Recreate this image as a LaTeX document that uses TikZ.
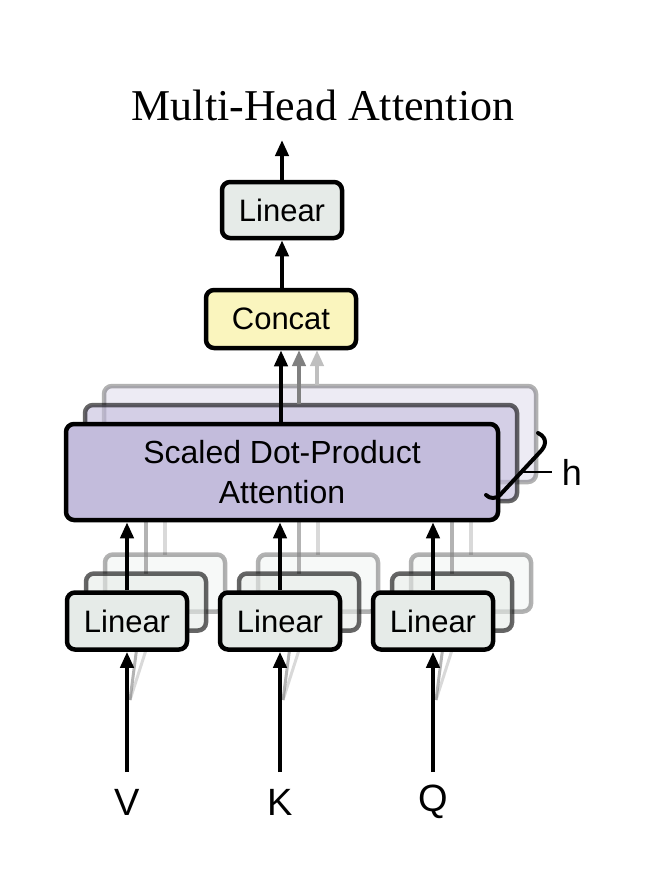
\documentclass[tikz,border=0pt]{standalone}
\usepackage{fontspec}
\setsansfont{Liberation Sans}
\newfontfamily\titlefont{Liberation Serif}
\usetikzlibrary{arrows.meta,decorations.pathreplacing}
\definecolor{lin}{HTML}{E6EBE8}
\definecolor{sdp}{HTML}{C3BCDC}
\definecolor{cat}{HTML}{FAF5BE}
\begin{document}
\begin{tikzpicture}[x=1pt,y=-1pt,
  box/.style={draw=black,line width=4.5pt,rounded corners=8pt,inner sep=0pt,font=\sffamily\fontsize{31}{36}\selectfont},
  arr/.style={line width=4pt,-{Triangle[length=16pt,width=13pt]}},
  g1/.style={opacity=0.6},g2/.style={opacity=0.3}]
\useasboundingbox (0,0) rectangle (652,872);
\node[font=\titlefont\fontsize{44}{50}\selectfont] (title) at (323,105) {Multi-Head Attention};
% back copies of SDPA
\foreach \o/\s in {38/g2,19/g1}{
  \node[box,fill=sdp,\s,minimum width=432pt,minimum height=96pt] (s\o) at (282+\o,472-\o) {};
}
% back copies of linears
\foreach \x/\n in {127/v,280/k,433/q}{
  \foreach \o/\s in {38/g2,19/g1}{
    \draw[\s,line width=4pt,gray] (\x+\o,593-\o) -- (\x+\o,520);
    \node[box,fill=lin,\s,minimum width=120pt,minimum height=57pt] (\n\o) at (\x+\o,621-\o) {};
    \draw[\s,line width=3pt,gray] (\x+3,700) -- (\x+\o*0.5,650);
  }
}
\node[box,fill=sdp,minimum width=432pt,minimum height=96pt,align=center,font=\sffamily\fontsize{32}{40}\selectfont] (sdpa) at (282,472) {Scaled Dot-Product\\Attention};
\foreach \x/\n/\t in {127/v/V,280/k/K,433/q/Q}{
  \node[box,fill=lin,minimum width=120pt,minimum height=57pt] (\n) at (\x,621) {Linear};
  \node[font=\sffamily\fontsize{38}{44}\selectfont] (\n t) at (\x,802) {\t};
  \coordinate (\n s) at (\x,772);
  \draw[arr] (\n s) -- (\n.south);
  \draw[arr] (\n.north) -- (\n.north |- sdpa.south);
}
\node[box,fill=cat,minimum width=150pt,minimum height=58pt] (concat) at (281,319) {Concat};
\node[box,fill=lin,minimum width=120pt,minimum height=56pt] (lout) at (282,210) {Linear};
\coordinate (out) at (282,140);
\draw[arr,gray!50] (317,385) -- (317,350);
\draw[arr,gray] (299,404) -- (299,350);
\draw[arr] (sdpa.north -| concat.south) -- (concat.south);
\draw[arr] (concat.north -| lout.south) -- (lout.south);
\draw[arr] (lout.north) -- (out);
% h brace
\draw[line width=4pt,line cap=round] (538,433) .. controls (548,438) and (546,446) .. (540,452) -- (500,495) .. controls (496,499) and (490,499) .. (486,495);
\draw[line width=2pt] (520,472) -- (552,472);
\node[font=\sffamily\fontsize{36}{40}\selectfont] (h) at (572,472) {h};
\end{tikzpicture}
\end{document}
